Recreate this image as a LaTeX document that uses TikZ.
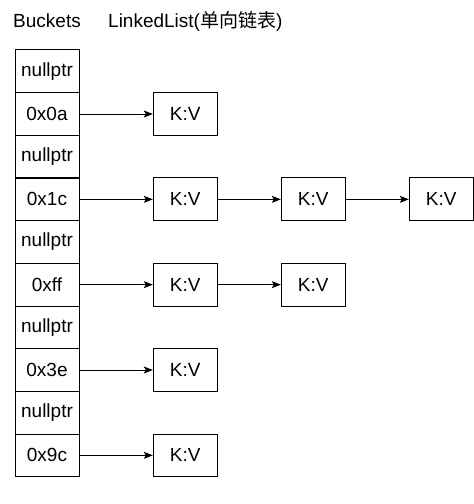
\documentclass[tikz,border=0pt]{standalone}
\usepackage{fontspec}
\setmainfont{Liberation Sans}
\newfontfamily\cjk{Noto Sans CJK SC}
\usetikzlibrary{arrows.meta}
\begin{document}
\begin{tikzpicture}[x=1pt,y=-1pt,
  cell/.style={draw,line width=1pt,minimum width=64pt,minimum height=42.67pt,inner sep=0pt,font=\fontsize{19}{21}\selectfont},
  link/.style={line width=1pt,-{Stealth[length=9pt,width=7pt,inset=2pt]}},
  title/.style={anchor=base west,inner sep=0pt,font=\fontsize{19}{21}\selectfont}]
\useasboundingbox (0,0) rectangle (474,504);
\node[title] (tb) at (13,27) {Buckets};
\node[title] (tl) at (108,27) {LinkedList({\cjk 单向链表})};
% bucket column
\node[cell] (b0) at (47,71.33) {nullptr};
\node[cell] (b1) at (47,114) {0x0a};
\node[cell] (b2) at (47,156.67) {nullptr};
\node[cell] (b3) at (47,199.33) {0x1c};
\node[cell] (b4) at (47,242) {nullptr};
\node[cell] (b5) at (47,284.67) {0xff};
\node[cell] (b6) at (47,327.33) {nullptr};
\node[cell] (b7) at (47,370) {0x3e};
\node[cell] (b8) at (47,412.67) {nullptr};
\node[cell] (b9) at (47,455.33) {0x9c};
% linked list nodes
\node[cell] (k1a) at (185.3,114) {K:V};
\node[cell] (k3a) at (185.3,199.33) {K:V};
\node[cell] (k3b) at (313.3,199.33) {K:V};
\node[cell] (k3c) at (441.3,199.33) {K:V};
\node[cell] (k5a) at (185.3,284.67) {K:V};
\node[cell] (k5b) at (313.3,284.67) {K:V};
\node[cell] (k7a) at (185.3,370) {K:V};
\node[cell] (k9a) at (185.3,455.33) {K:V};
% links
\draw[link] (b1) -- (k1a);
\draw[link] (b3) -- (k3a);
\draw[link] (k3a) -- (k3b);
\draw[link] (k3b) -- (k3c);
\draw[link] (b5) -- (k5a);
\draw[link] (k5a) -- (k5b);
\draw[link] (b7) -- (k7a);
\draw[link] (b9) -- (k9a);
\end{tikzpicture}
\end{document}
